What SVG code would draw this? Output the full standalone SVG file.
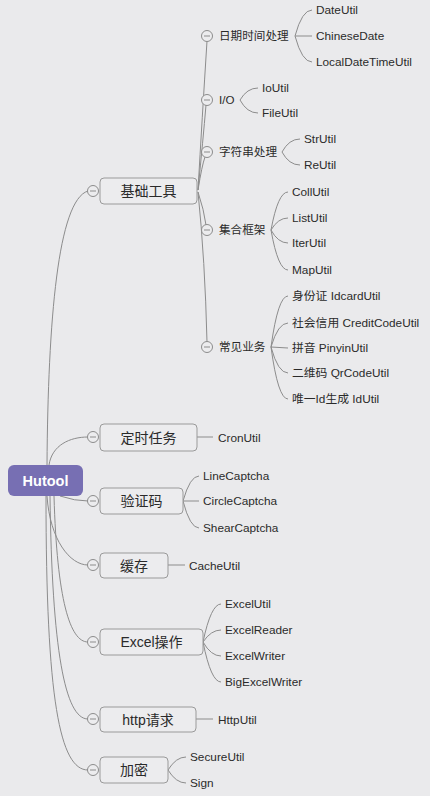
<svg xmlns="http://www.w3.org/2000/svg" xmlns:xlink="http://www.w3.org/1999/xlink" width="430" height="796" viewBox="0 0 430 796">
<style>
.bg{fill:#eaeaec}
.c{fill:none;stroke:#8c8c8c;stroke-width:1}
.root{fill:#776fb3}
.rt{font-family:"Liberation Sans","Noto Sans CJK SC",sans-serif;font-size:14.5px;font-weight:bold;fill:#ffffff;text-anchor:middle}
.box{fill:#ececee;stroke:#9a9a9a;stroke-width:1}
.t1{font-family:"Liberation Sans","Noto Sans CJK SC",sans-serif;font-size:14px;fill:#2a2a2a;text-anchor:middle}
.t2{font-family:"Liberation Sans","Noto Sans CJK SC",sans-serif;font-size:11.6px;fill:#2a2a2a}
.lf{font-family:"Liberation Sans","Noto Sans CJK SC",sans-serif;font-size:11.8px;fill:#2a2a2a}
.tg{fill:#ececee;stroke:#8c8c8c;stroke-width:1}
</style>
<defs>
<g id="col"><circle cx="0" cy="0" r="5.5" class="tg"/><line x1="-3" y1="0" x2="3" y2="0" stroke="#8c8c8c" stroke-width="1"/></g>
</defs>
<rect class="bg" x="0" y="0" width="430" height="796"/>
<g id="connectors">
<path class="c" d="M47,465 C48,320 58,200 88,191"/>
<path class="c" d="M49,465 C52,445 70,437 88,437"/>
<path class="c" d="M60,496 Q75,501 88,501"/>
<path class="c" d="M47,496 C50,540 70,565 88,565"/>
<path class="c" d="M54,496 C57,600 70,642 88,642"/>
<path class="c" d="M50,496 C52,650 65,719 88,719"/>
<path class="c" d="M46,496 C46,700 60,770 88,770"/>
<path class="c" d="M198,190 Q202,120 207,41"/>
<path class="c" d="M198,190 Q203,140 206,105"/>
<path class="c" d="M198,190 Q202,165 205,157"/>
<path class="c" d="M198,192 Q204,210 206,225"/>
<path class="c" d="M198,192 Q205,260 207,342"/>
<path class="c" d="M295,36 Q302,10 312,10"/><path class="c" d="M295,36 L312,36"/><path class="c" d="M295,36 Q302,62 312,62"/>
<path class="c" d="M240,100 Q247,88 258,88"/><path class="c" d="M240,100 Q247,113 258,113"/>
<path class="c" d="M282,152 Q289,139 300,139"/><path class="c" d="M282,152 Q289,165 300,165"/>
<path class="c" d="M271,230 Q278,192 288,192"/><path class="c" d="M271,230 Q278,218 288,218"/><path class="c" d="M271,230 Q278,243 288,243"/><path class="c" d="M271,230 Q278,270 288,270"/>
<path class="c" d="M271,347 Q278,296 288,296"/><path class="c" d="M271,347 Q278,323 288,323"/><path class="c" d="M271,347 L288,348"/><path class="c" d="M271,347 Q278,373 288,373"/><path class="c" d="M271,347 Q278,399 288,399"/>
<path class="c" d="M197,437 L213,437"/>
<path class="c" d="M183,501 Q190,476 199,476"/><path class="c" d="M183,501 L199,501"/><path class="c" d="M183,501 Q190,528 199,528"/>
<path class="c" d="M168,565 L185,565"/>
<path class="c" d="M203,642 Q211,604 221,604"/><path class="c" d="M203,642 Q211,630 221,630"/><path class="c" d="M203,642 Q211,656 221,656"/><path class="c" d="M203,642 Q211,682 221,682"/>
<path class="c" d="M196,719 L213,719"/>
<path class="c" d="M168,770 Q176,757 186,757"/><path class="c" d="M168,770 Q176,783 186,783"/>
</g>
<g id="root"><rect class="root" x="8" y="465" width="75" height="31" rx="6"/><text class="rt" x="45.5" y="486">Hutool</text></g>
<g id="n-jichu"><use href="#col" x="93" y="191"/><rect class="box" x="100" y="178" width="97" height="26" rx="4"/><text class="t1" x="148.5" y="196">基础工具</text></g>
<g id="n-dingshi"><use href="#col" x="93" y="437"/><rect class="box" x="100" y="424" width="97" height="27" rx="4"/><text class="t1" x="148.5" y="442.5">定时任务</text></g>
<g id="n-yanzheng"><use href="#col" x="93" y="501"/><rect class="box" x="100" y="488" width="83" height="26" rx="4"/><text class="t1" x="141.5" y="506">验证码</text></g>
<g id="n-huancun"><use href="#col" x="93" y="565"/><rect class="box" x="100" y="553" width="68" height="25" rx="4"/><text class="t1" x="134" y="570.5">缓存</text></g>
<g id="n-excel"><use href="#col" x="93" y="642"/><rect class="box" x="100" y="629" width="103" height="26" rx="4"/><text class="t1" x="151.5" y="647">Excel操作</text></g>
<g id="n-http"><use href="#col" x="93" y="719"/><rect class="box" x="100" y="707" width="96" height="25" rx="4"/><text class="t1" x="148" y="724.5">http请求</text></g>
<g id="n-jiami"><use href="#col" x="93" y="770"/><rect class="box" x="100" y="757" width="68" height="26" rx="4"/><text class="t1" x="134" y="775">加密</text></g>
<g id="n-riqi"><use href="#col" x="207" y="36"/><text class="t2" x="219" y="40">日期时间处理</text></g>
<g id="n-io"><use href="#col" x="207" y="100"/><text class="t2" x="219" y="104">I/O</text></g>
<g id="n-zifu"><use href="#col" x="207" y="152"/><text class="t2" x="219" y="156">字符串处理</text></g>
<g id="n-jihe"><use href="#col" x="207" y="230"/><text class="t2" x="219" y="234">集合框架</text></g>
<g id="n-changjian"><use href="#col" x="207" y="347"/><text class="t2" x="219" y="351">常见业务</text></g>
<g id="leaves">
<text class="lf" x="316" y="14">DateUtil</text>
<text class="lf" x="316" y="40">ChineseDate</text>
<text class="lf" x="316" y="66">LocalDateTimeUtil</text>
<text class="lf" x="262" y="92">IoUtil</text>
<text class="lf" x="262" y="117">FileUtil</text>
<text class="lf" x="304" y="143">StrUtil</text>
<text class="lf" x="304" y="169">ReUtil</text>
<text class="lf" x="292" y="196">CollUtil</text>
<text class="lf" x="292" y="222">ListUtil</text>
<text class="lf" x="292" y="247">IterUtil</text>
<text class="lf" x="292" y="274">MapUtil</text>
<text class="lf" x="292" y="300">身份证 IdcardUtil</text>
<text class="lf" x="292" y="327">社会信用 CreditCodeUtil</text>
<text class="lf" x="292" y="352">拼音 PinyinUtil</text>
<text class="lf" x="292" y="377">二维码 QrCodeUtil</text>
<text class="lf" x="292" y="403">唯一Id生成 IdUtil</text>
<text class="lf" x="218" y="442">CronUtil</text>
<text class="lf" x="203" y="480">LineCaptcha</text>
<text class="lf" x="203" y="505">CircleCaptcha</text>
<text class="lf" x="203" y="532">ShearCaptcha</text>
<text class="lf" x="189" y="570">CacheUtil</text>
<text class="lf" x="225" y="608">ExcelUtil</text>
<text class="lf" x="225" y="634">ExcelReader</text>
<text class="lf" x="225" y="660">ExcelWriter</text>
<text class="lf" x="225" y="686">BigExcelWriter</text>
<text class="lf" x="218" y="724">HttpUtil</text>
<text class="lf" x="190" y="761">SecureUtil</text>
<text class="lf" x="190" y="787">Sign</text>
</g>
</svg>
